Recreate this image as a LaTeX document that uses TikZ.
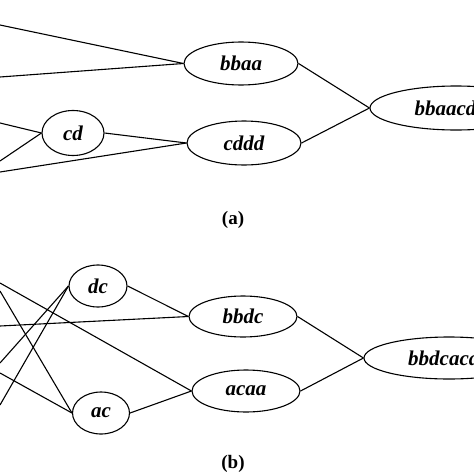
\documentclass[tikz,border=0pt]{standalone}
\usepackage{fontspec}
\setmainfont{Liberation Serif}
\usetikzlibrary{shapes.geometric}

\begin{document}
\begin{tikzpicture}[x=1pt,y=-1pt,line width=1.1pt,
  state/.style={draw,ellipse,inner sep=0pt,font=\fontsize{21}{25}\selectfont\bfseries\itshape},
  caption/.style={font=\fontsize{19}{23}\selectfont\bfseries}]
\useasboundingbox (0,0) rectangle (474,474);
\clip (0,0) rectangle (474,474);
% (a)
\node[state,minimum width=114,minimum height=43] (bbaa) at (241,63.5) {bbaa};
\node[state,minimum width=114,minimum height=44] (cddd) at (244,143) {cddd};
\node[state,minimum width=62,minimum height=45] (cd) at (73,133) {cd};
\node[state,minimum width=172,minimum height=44] (bbaacddd) at (456,108) {bbaacddd};
\coordinate (a1) at (0,25);
\coordinate (a2) at (0,77);
\coordinate (a3) at (0,123);
\coordinate (a4) at (0,161);
\coordinate (a5) at (0,172);
\draw (a1) -- (bbaa.west);
\draw (a2) -- (bbaa.west);
\draw (a3) -- (cd.west);
\draw (a4) -- (cd.west);
\draw (a5) -- (cddd.west);
\draw (cd.east) -- (cddd.west);
\draw (bbaa.east) -- (bbaacddd.west);
\draw (cddd.east) -- (bbaacddd.west);
\node[caption] (capa) at (233,220) {(a)};
% (b)
\node[state,minimum width=58,minimum height=42] (dc) at (98,286) {dc};
\node[state,minimum width=57,minimum height=42] (ac) at (101,413) {ac};
\node[state,minimum width=108,minimum height=41] (bbdc) at (243,316.5) {bbdc};
\node[state,minimum width=108,minimum height=42] (acaa) at (246,391) {acaa};
\node[state,minimum width=170,minimum height=42] (bbdcacaa) at (449,358) {bbdcacaa};
\coordinate (b1) at (0,283);
\coordinate (b2) at (0,291);
\coordinate (b3) at (0,326);
\coordinate (b4) at (0,363);
\coordinate (b5) at (0,373);
\coordinate (b6) at (0,405);
\draw (b1) -- (acaa.west);
\draw (b2) -- (ac.west);
\draw (b3) -- (bbdc.west);
\draw (b4) -- (dc.west);
\draw (b5) -- (ac.west);
\draw (b6) -- (dc.west);
\draw (dc.east) -- (bbdc.west);
\draw (ac.east) -- (acaa.west);
\draw (bbdc.east) -- (bbdcacaa.west);
\draw (acaa.east) -- (bbdcacaa.west);
\node[caption] (capb) at (233,464) {(b)};
\end{tikzpicture}
\end{document}
